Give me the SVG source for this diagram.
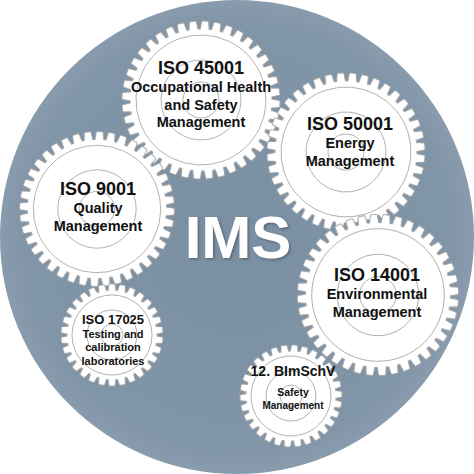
<svg xmlns="http://www.w3.org/2000/svg" xmlns:xlink="http://www.w3.org/1999/xlink" width="474" height="474" viewBox="0 0 474 474">
<style>
.gout{fill:#ababab;stroke:#ababab;stroke-width:3;stroke-linejoin:round}
.gin{fill:#fff;stroke:#fff;stroke-width:1;stroke-linejoin:round}
.ring{fill:none;stroke:#a0a0a0;stroke-width:0.8}
.h{font-family:"Liberation Sans",Arial,sans-serif;font-weight:bold;fill:#111;text-anchor:middle}
.ims{font-family:"Liberation Sans",Arial,sans-serif;font-weight:bold;fill:#fff;text-anchor:middle;font-size:60px}
</style>
<defs>
<radialGradient id="bg" cx="0.5" cy="0.5" r="0.5">
<stop offset="0" stop-color="#7b8fa3"/>
<stop offset="0.9" stop-color="#8195a8"/>
<stop offset="1" stop-color="#899cae"/>
</radialGradient>
<filter id="sh" x="-20%" y="-20%" width="140%" height="140%">
<feDropShadow dx="1.5" dy="1.5" stdDeviation="1.2" flood-color="#2c3e50" flood-opacity="0.5"/>
</filter>
<polygon id="tb" points="-3.7,-68 -2.5,-78 2.5,-78 3.7,-68"/>
<g id="teethB">
<use xlink:href="#tb"/><use xlink:href="#tb" transform="rotate(9)"/><use xlink:href="#tb" transform="rotate(18)"/><use xlink:href="#tb" transform="rotate(27)"/><use xlink:href="#tb" transform="rotate(36)"/><use xlink:href="#tb" transform="rotate(45)"/><use xlink:href="#tb" transform="rotate(54)"/><use xlink:href="#tb" transform="rotate(63)"/><use xlink:href="#tb" transform="rotate(72)"/><use xlink:href="#tb" transform="rotate(81)"/>
<use xlink:href="#tb" transform="rotate(90)"/><use xlink:href="#tb" transform="rotate(99)"/><use xlink:href="#tb" transform="rotate(108)"/><use xlink:href="#tb" transform="rotate(117)"/><use xlink:href="#tb" transform="rotate(126)"/><use xlink:href="#tb" transform="rotate(135)"/><use xlink:href="#tb" transform="rotate(144)"/><use xlink:href="#tb" transform="rotate(153)"/><use xlink:href="#tb" transform="rotate(162)"/><use xlink:href="#tb" transform="rotate(171)"/>
<use xlink:href="#tb" transform="rotate(180)"/><use xlink:href="#tb" transform="rotate(189)"/><use xlink:href="#tb" transform="rotate(198)"/><use xlink:href="#tb" transform="rotate(207)"/><use xlink:href="#tb" transform="rotate(216)"/><use xlink:href="#tb" transform="rotate(225)"/><use xlink:href="#tb" transform="rotate(234)"/><use xlink:href="#tb" transform="rotate(243)"/><use xlink:href="#tb" transform="rotate(252)"/><use xlink:href="#tb" transform="rotate(261)"/>
<use xlink:href="#tb" transform="rotate(270)"/><use xlink:href="#tb" transform="rotate(279)"/><use xlink:href="#tb" transform="rotate(288)"/><use xlink:href="#tb" transform="rotate(297)"/><use xlink:href="#tb" transform="rotate(306)"/><use xlink:href="#tb" transform="rotate(315)"/><use xlink:href="#tb" transform="rotate(324)"/><use xlink:href="#tb" transform="rotate(333)"/><use xlink:href="#tb" transform="rotate(342)"/><use xlink:href="#tb" transform="rotate(351)"/>
</g>
<g id="gearB">
<g class="gout"><use xlink:href="#teethB"/><circle r="70"/></g>
<g class="gin"><use xlink:href="#teethB"/><circle r="70"/></g>
<circle class="ring" r="65"/><circle class="ring" r="40"/><circle class="ring" r="18"/>
</g>
<polygon id="ts" points="-3,-43 -2.1,-50 2.1,-50 3,-43"/>
<g id="teethS">
<use xlink:href="#ts"/><use xlink:href="#ts" transform="rotate(12)"/><use xlink:href="#ts" transform="rotate(24)"/><use xlink:href="#ts" transform="rotate(36)"/><use xlink:href="#ts" transform="rotate(48)"/><use xlink:href="#ts" transform="rotate(60)"/><use xlink:href="#ts" transform="rotate(72)"/><use xlink:href="#ts" transform="rotate(84)"/><use xlink:href="#ts" transform="rotate(96)"/><use xlink:href="#ts" transform="rotate(108)"/>
<use xlink:href="#ts" transform="rotate(120)"/><use xlink:href="#ts" transform="rotate(132)"/><use xlink:href="#ts" transform="rotate(144)"/><use xlink:href="#ts" transform="rotate(156)"/><use xlink:href="#ts" transform="rotate(168)"/><use xlink:href="#ts" transform="rotate(180)"/><use xlink:href="#ts" transform="rotate(192)"/><use xlink:href="#ts" transform="rotate(204)"/><use xlink:href="#ts" transform="rotate(216)"/><use xlink:href="#ts" transform="rotate(228)"/>
<use xlink:href="#ts" transform="rotate(240)"/><use xlink:href="#ts" transform="rotate(252)"/><use xlink:href="#ts" transform="rotate(264)"/><use xlink:href="#ts" transform="rotate(276)"/><use xlink:href="#ts" transform="rotate(288)"/><use xlink:href="#ts" transform="rotate(300)"/><use xlink:href="#ts" transform="rotate(312)"/><use xlink:href="#ts" transform="rotate(324)"/><use xlink:href="#ts" transform="rotate(336)"/><use xlink:href="#ts" transform="rotate(348)"/>
</g>
<g id="gearS">
<g class="gout"><use xlink:href="#teethS"/><circle r="44"/></g>
<g class="gin"><use xlink:href="#teethS"/><circle r="44"/></g>
<circle class="ring" r="40"/><circle class="ring" r="25"/><circle class="ring" r="11"/>
</g>
</defs>

<rect width="474" height="474" fill="#fff"/>
<circle cx="237" cy="237" r="237" fill="url(#bg)"/>

<g id="ims"><text class="ims" x="238" y="258" filter="url(#sh)">IMS</text></g>

<g id="iso45001">
<use xlink:href="#gearB" transform="translate(201,100) rotate(3)"/>
<text class="h" x="201" y="74" font-size="18">ISO 45001</text>
<text class="h" x="201" y="92" font-size="14.5">Occupational Health</text>
<text class="h" x="201" y="110" font-size="14.5">and Safety</text>
<text class="h" x="201" y="127" font-size="14.5">Management</text>
</g>

<g id="iso50001">
<use xlink:href="#gearB" transform="translate(346,152) rotate(5)"/>
<text class="h" x="350" y="130" font-size="18">ISO 50001</text>
<text class="h" x="350" y="148" font-size="14.5">Energy</text>
<text class="h" x="350" y="166" font-size="14.5">Management</text>
</g>

<g id="iso9001">
<use xlink:href="#gearB" transform="translate(97,209) scale(0.98) rotate(2)"/>
<text class="h" x="98" y="195" font-size="18">ISO 9001</text>
<text class="h" x="98" y="213" font-size="14.5">Quality</text>
<text class="h" x="98" y="231" font-size="14.5">Management</text>
</g>

<g id="iso14001">
<use xlink:href="#gearB" transform="translate(378,295) scale(1.02) rotate(6)"/>
<text class="h" x="377" y="281" font-size="18">ISO 14001</text>
<text class="h" x="377" y="299" font-size="14.5">Environmental</text>
<text class="h" x="377" y="317" font-size="14.5">Management</text>
</g>

<g id="iso17025">
<use xlink:href="#gearS" transform="translate(112,335)"/>
<text class="h" x="113" y="324" font-size="13">ISO 17025</text>
<text class="h" x="113" y="337.5" font-size="11">Testing and</text>
<text class="h" x="113" y="351" font-size="11">calibration</text>
<text class="h" x="113" y="364.5" font-size="11">laboratories</text>
</g>

<g id="bimschv">
<use xlink:href="#gearS" transform="translate(291,396) rotate(4)"/>
<text class="h" x="293" y="376" font-size="14">12. BImSchV</text>
<text class="h" x="293" y="396" font-size="10.5">Safety</text>
<text class="h" x="293" y="409" font-size="10">Management</text>
</g>

<g id="connectors"/>
</svg>
